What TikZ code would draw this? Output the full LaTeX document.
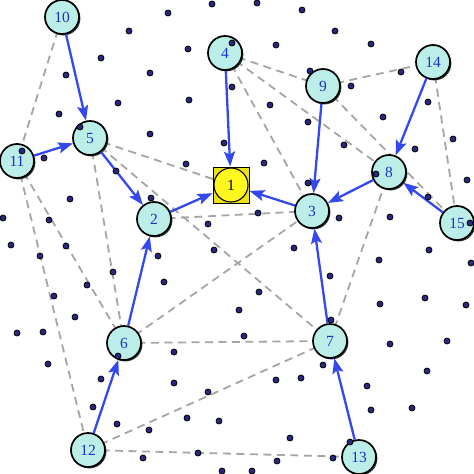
\documentclass[tikz,border=0pt]{standalone}
\usepackage{fontspec}
\setmainfont{Liberation Serif}
\usetikzlibrary{arrows.meta,shadows,backgrounds}
\definecolor{nodefill}{RGB}{188,238,233}
\definecolor{nodetext}{RGB}{30,50,200}
\definecolor{arrblue}{RGB}{52,72,240}
\definecolor{dashgray}{RGB}{165,165,165}
\definecolor{dotfill}{RGB}{40,40,130}
\definecolor{sqyellow}{RGB}{236,226,20}
\definecolor{cyellow}{RGB}{255,248,30}
\definecolor{shadowcol}{RGB}{40,60,50}
\tikzset{
  sensor/.style={circle,draw=black,line width=1.7pt,fill=nodefill,minimum size=34pt,inner sep=0pt,
    text=nodetext,font=\fontsize{15.5}{15.5}\selectfont,
    drop shadow={shadow xshift=1.4pt,shadow yshift=-1.4pt,fill=shadowcol,opacity=1}},
  sinkbox/.style={rectangle,draw=black,line width=1pt,fill=sqyellow,minimum size=36pt,inner sep=0pt},
  sinkcirc/.style={circle,draw=black,line width=1.1pt,fill=cyellow,minimum size=34pt,inner sep=0pt,
    text=black,font=\fontsize{15.5}{15.5}\selectfont},
  link/.style={draw=dashgray,line width=1.8pt,dash pattern=on 8pt off 5.5pt},
  route/.style={draw=arrblue,line width=2.3pt,-{Stealth[length=15pt,width=11pt,inset=3pt]}},
  dot/.style={circle,draw=black,line width=0.8pt,fill=dotfill,minimum size=6pt,inner sep=0pt}
}
\begin{document}
\begin{tikzpicture}[x=1pt,y=-1pt]
\useasboundingbox (0,0) rectangle (474,474);
\node[sinkbox] (n1b) at (231,185) {};
\node[sinkcirc] (n1) at (231,185) {1};
\node[sensor] (n2) at (154,219) {2};
\node[sensor] (n3) at (312,211) {3};
\node[sensor] (n4) at (225,53) {4};
\node[sensor] (n5) at (90,138) {5};
\node[sensor] (n6) at (124,343) {6};
\node[sensor] (n7) at (330,341) {7};
\node[sensor] (n8) at (389,172) {8};
\node[sensor] (n9) at (323,86) {9};
\node[sensor] (n10) at (62,17) {10};
\node[sensor] (n11) at (17,161) {11};
\node[sensor] (n12) at (88,450) {12};
\node[sensor] (n13) at (359,457) {13};
\node[sensor] (n14) at (433,62) {14};
\node[sensor] (n15) at (457,223) {15};
\begin{scope}[on background layer]
\foreach \a/\b in {n10/n11,n11/n12,n11/n6,n5/n1b,n5/n6,n5/n7,n2/n3,n6/n3,n6/n7,n12/n7,n12/n13,n7/n8,n4/n9,n4/n8,n4/n3,n9/n15,n9/n14,n14/n15}
  \draw[link] (\a.center) -- (\b.center);
\end{scope}
\draw[route] (n10) -- (n5);
\draw[route] (n11) -- (n5);
\draw[route] (n5) -- (n2);
\draw[route] (n2) -- (n1b);
\draw[route] (n4) -- (n1b);
\draw[route] (n3) -- (n1b);
\draw[route] (n9) -- (n3);
\draw[route] (n8) -- (n3);
\draw[route] (n14) -- (n8);
\draw[route] (n15) -- (n8);
\draw[route] (n7) -- (n3);
\draw[route] (n13) -- (n7);
\draw[route] (n12) -- (n6);
\draw[route] (n6) -- (n2);
\foreach \x/\y [count=\i] in {212/4,168/13,129/31,188/49,232/43,101/58,66/75,150/73,232/87,118/103,189/100,59/114,80/127,150/134,224/143,22/151,44/158,186/164,116/171,151/198,70/199,3/218,49/220,208/224,
257/3,302/10,335/31,276/45,371/44,310/71,401/72,351/86,270/105,428/102,383/117,308/122,453/139,344/145,415/149,264/163,467/180,376/174,308/183,428/197,258/213,339/218,390/217,470/223,
11/245,40/256,66/246,113/272,87/285,54/296,158/256,164/282,214/250,75/317,17/333,43/332,174/352,118/356,48/364,101/379,174/383,208/392,93/407,187/418,219/421,117/424,149/430,198/453,143/458,222/471,
294/248,429/250,379/260,471/263,330/276,259/292,425/298,380/304,466/305,239/310,331/320,244/336,390/344,447/341,323/365,276/380,301/378,427/371,367/386,371/410,412/408,290/438,350/442,277/461,333/458,252/471}
  \node[dot] (d\i) at (\x,\y) {};
\end{tikzpicture}
\end{document}
